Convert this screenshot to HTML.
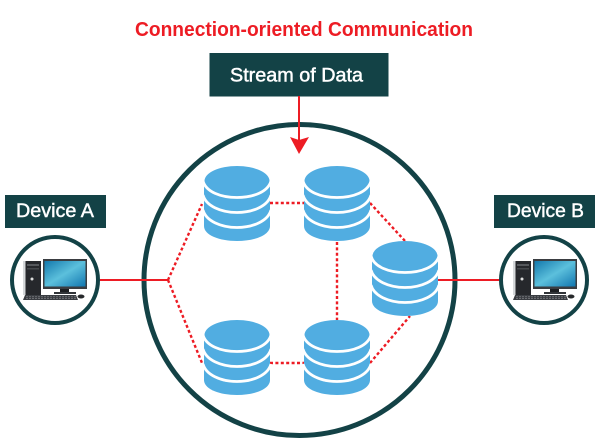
<!DOCTYPE html>
<html><head><meta charset="utf-8">
<style>html,body{margin:0;padding:0;background:#fff}svg{display:block}text{font-family:"Liberation Sans",sans-serif}</style>
</head><body>
<svg width="600" height="446" viewBox="0 0 600 446" xmlns="http://www.w3.org/2000/svg">
<defs>
<g id="db">
<path d="M0 20V60C0 69 15 75 33 75S66 69 66 60V20Z" fill="#51ade1"/>
<ellipse cx="33" cy="15" rx="32.5" ry="15" fill="#51ade1"/>
<path d="M-1 15C2 26 17 31.5 33 31.5S64 26 67 15" fill="none" stroke="#fff" stroke-width="2.8"/>
<path d="M-1 29C2 40 17 46.5 33 46.5S64 40 67 29" fill="none" stroke="#fff" stroke-width="2.8"/>
<path d="M-1 44C2 55 17 61.5 33 61.5S64 55 67 44" fill="none" stroke="#fff" stroke-width="2.8"/>
</g>
<linearGradient id="sc" x1="0" y1="0" x2="1" y2="1"><stop offset="0" stop-color="#1479ad"/><stop offset=".5" stop-color="#5cc0dc"/><stop offset="1" stop-color="#1277b0"/></linearGradient>
<g id="pc">
<rect x="23" y="261" width="18" height="34" fill="#26282c"/>
<rect x="23" y="261" width="2.5" height="34" fill="#d5d8da"/>
<rect x="27" y="264" width="12" height="2" fill="#55585c"/>
<rect x="27" y="268" width="12" height="1.5" fill="#44474b"/>
<circle cx="32" cy="279" r="1.5" fill="#ddd"/>
<rect x="43" y="259" width="44" height="30" fill="#3a3d41"/>
<rect x="44.5" y="261" width="41" height="25.5" fill="url(#sc)"/>
<rect x="60" y="289" width="9" height="4" fill="#1d1f22"/>
<rect x="54" y="292" width="22" height="2" fill="#33363a"/>
<path d="M25 295H76L78 300H23Z" fill="#3a3d42"/>
<path d="M26 296.8H76M26 298.3H77" stroke="#8a8d90" stroke-width=".7" stroke-dasharray="2 1"/>
<ellipse cx="81" cy="296.5" rx="3.5" ry="2" fill="#26282b"/>
</g>
</defs>

<text x="135" y="36" font-size="20" font-weight="bold" fill="#ed1c24" textLength="338" lengthAdjust="spacingAndGlyphs">Connection-oriented Communication</text>

<circle cx="299.5" cy="280" r="155.5" fill="#fff" stroke="#134246" stroke-width="5"/>

<rect x="209.5" y="53" width="179" height="43.5" fill="#134246"/>
<text x="230" y="81.5" font-size="19" fill="#fff" stroke="#fff" stroke-width=".45" textLength="133" lengthAdjust="spacingAndGlyphs">Stream of Data</text>

<rect x="5" y="195" width="101" height="33" fill="#134246"/>
<text x="16" y="217" font-size="19" fill="#fff" stroke="#fff" stroke-width=".45" textLength="78" lengthAdjust="spacingAndGlyphs">Device A</text>
<rect x="494" y="195" width="101" height="33" fill="#134246"/>
<text x="507" y="217" font-size="19" fill="#fff" stroke="#fff" stroke-width=".45" textLength="77" lengthAdjust="spacingAndGlyphs">Device B</text>

<g fill="none" stroke="#ed1c24">
<path d="M299 96V142" stroke-width="2"/>
<path d="M100 280H168M438 280H499" stroke-width="2"/>
<path d="M168 280L202 204M168 280L202 363M270 203H304M370 203L405 241M337 242V320M270 363H304M370 363L410 316" stroke-width="2.4" stroke-dasharray="3 2.4"/>
</g>
<path d="M290 137L299 140L309 137L299 154Z" fill="#ed1c24"/>

<use href="#db" x="204" y="166"/>
<use href="#db" x="304" y="166"/>
<use href="#db" x="372" y="241"/>
<use href="#db" x="204" y="320"/>
<use href="#db" x="304" y="320"/>

<circle cx="55" cy="280" r="43" fill="none" stroke="#134246" stroke-width="4"/>
<circle cx="544" cy="280" r="43" fill="none" stroke="#134246" stroke-width="4"/>
<use href="#pc"/>
<use href="#pc" x="490"/>
</svg>
</body></html>
